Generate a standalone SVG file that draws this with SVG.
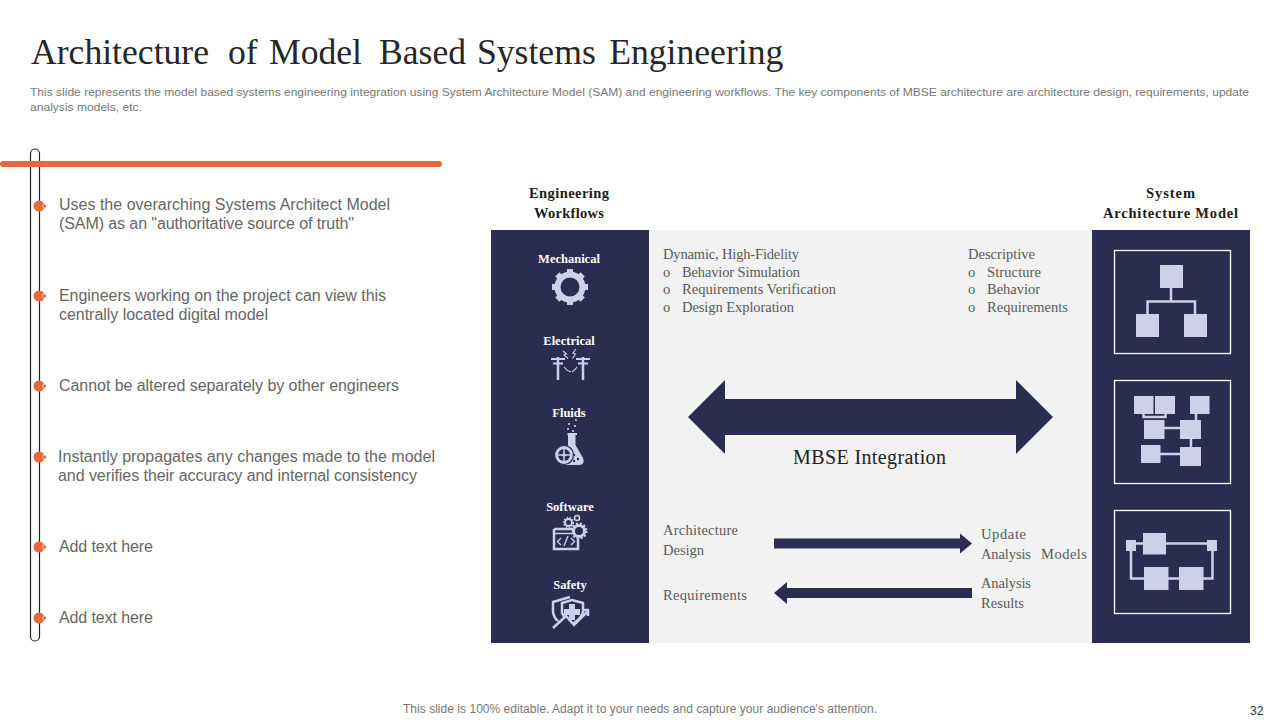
<svg xmlns="http://www.w3.org/2000/svg" width="1280" height="720" viewBox="0 0 1280 720">
<style>
.s{font-family:"Liberation Serif","Times New Roman",serif}
.a{font-family:"Liberation Sans",Arial,sans-serif}
.b{font-size:16px;fill:#666}
.t{font-size:14.5px;fill:#595959}
.h{font-size:14.5px;font-weight:bold;fill:#1c1c1c}
.w{font-size:12.500px;font-weight:bold;fill:#fff;text-anchor:middle}
.i{fill:#cdd0e6}
.l{stroke:#cdd0e6;fill:none;stroke-width:2.500}
.f{fill:none;stroke:#fff;stroke-width:1.300}
.d{fill:#e8683a}
.n{fill:#2a2d50}
</style>
<defs><g id="dot"><circle cx="39" cy="0" r="5.500" class="d"/><circle cx="44.500" cy="0" r="2" class="d" stroke="#fff" stroke-width="0.600"/></g></defs>
<rect width="1280" height="720" fill="#fff"/>
<g id="title"><text class="s" transform="translate(30 64) scale(.99 1)" font-size="36" fill="#262626"><tspan x="1">Architecture</tspan> <tspan x="200">of</tspan> <tspan x="241.400">Model</tspan> <tspan x="352.500">Based</tspan> <tspan x="451.500">Systems</tspan> <tspan x="585">Engineering</tspan></text></g>
<g id="subtitle" class="a" font-size="11.500" fill="#777"><text x="30" y="96" textLength="1219" lengthAdjust="spacingAndGlyphs">This slide represents the model based systems engineering integration using System Architecture Model (SAM)  and engineering workflows. The key components of MBSE architecture are architecture design, requirements, update</text><text x="30" y="111" textLength="112" lengthAdjust="spacingAndGlyphs">analysis models, etc.</text></g>
<g id="timeline">
<rect x="30.500" y="149" width="9" height="492" rx="4.500" fill="none" stroke="#222" stroke-width="1.200"/>
<rect x="0" y="161" width="442" height="6" rx="3" fill="#e8683a"/>
<use href="#dot" y="206"/><use href="#dot" y="296"/><use href="#dot" y="386"/><use href="#dot" y="457"/><use href="#dot" y="547"/><use href="#dot" y="618"/>
</g>
<g id="bullets" class="a b">
<text x="59" y="210" textLength="331">Uses the overarching Systems Architect Model</text>
<text x="59" y="229" textLength="295">(SAM) as an "authoritative source of truth"</text>
<text x="59" y="301" textLength="327">Engineers working on the project can view this</text>
<text x="59" y="320" textLength="209">centrally located digital model</text>
<text x="59" y="391" textLength="340">Cannot be altered separately by other engineers</text>
<text x="58" y="462" textLength="377">Instantly propagates any changes made to the model</text>
<text x="58" y="481" textLength="359">and verifies their accuracy and internal consistency</text>
<text x="59" y="552" textLength="94">Add text here</text>
<text x="59" y="623" textLength="94">Add text here</text>
</g>
<g id="headers" class="s h">
<text x="529" y="198" textLength="80">Engineering</text><text x="534" y="218" textLength="70">Workflows</text>
<text x="1146" y="198" textLength="49">System</text><text x="1103" y="218" textLength="135">Architecture Model</text>
</g>
<rect id="center-panel" x="649" y="230" width="443" height="413" fill="#f2f2f2"/>
<g id="workflows">
<rect class="n" x="491" y="230" width="158" height="413"/>
<g id="mechanical"><text class="s w" x="569" y="263">Mechanical</text>
<circle cx="570" cy="287" r="12.500" fill="none" stroke="#cdd0e6" stroke-width="6"/>
<path d="M570 269v4M570 301v4M552 287h4M584 287h4M557.300 274.300l3 3M582.700 299.700l-3-3M582.700 274.300l-3 3M557.300 299.700l3-3" stroke="#cdd0e6" stroke-width="6"/></g>
<g id="electrical"><text class="s w" x="569" y="345">Electrical</text>
<path class="l" d="M558 380v-23M583 380v-23"/>
<path d="M551 359h14M553 363.500h10M576 359h14M578 363.500h10" stroke="#cdd0e6" stroke-width="1.800"/>
<path d="M563 351l3.500 3-2.500 1 4 3.500M576 349l-3 4 2.500 1-3 4.500M564 367q3 4 7 5M577 367q-2 3-5 5" stroke="#cdd0e6" stroke-width="1.200" fill="none"/></g>
<g id="fluids"><text class="s w" x="569" y="417">Fluids</text>
<path class="i" d="M568 433h9v2h-1.500v10l7.500 13q2.500 7-4 7h-12q-6 0-4-6l5-14v-10h-1z"/>
<circle cx="574" cy="455" r="1.200" class="n"/><circle cx="578" cy="459" r="1.200" class="n"/><circle cx="574" cy="461" r="1.200" class="n"/>
<circle cx="564" cy="455" r="9.500" class="i" stroke="#2a2d50" stroke-width="1.200"/>
<circle cx="564" cy="455" r="6" class="n"/><circle cx="564" cy="455" r="1.800" class="i"/>
<path d="M564 449v12M558 455h12" stroke="#cdd0e6" stroke-width="1.500"/>
<circle cx="569" cy="424" r="1.100" class="i"/><circle cx="576" cy="420" r="1.100" class="i"/><circle cx="575" cy="426" r="1.100" class="i"/><circle cx="568" cy="429" r="1.100" class="i"/><circle cx="573" cy="431" r="1.100" class="i"/></g>
<g id="software"><text class="s w" x="570" y="511">Software</text>
<path class="l" d="M554 529h24M554 529v20h24v-14" stroke-width="2"/><path d="M554 533.500h17" stroke="#cdd0e6" stroke-width="1.500"/>
<path d="M561 538l-3.500 3.500 3.500 3.500M571 538l3.500 3.500-3.500 3.500M568 536l-4 10" stroke="#cdd0e6" stroke-width="1.400" fill="none"/>
<circle cx="579" cy="531" r="5.500" class="n" stroke="#cdd0e6" stroke-width="3"/><circle cx="579" cy="531" r="7.500" fill="none" stroke="#cdd0e6" stroke-width="2" stroke-dasharray="2 2"/>
<circle cx="568.500" cy="522.500" r="3.500" fill="none" stroke="#cdd0e6" stroke-width="2"/><circle cx="568.500" cy="522.500" r="5" fill="none" stroke="#cdd0e6" stroke-width="1.300" stroke-dasharray="1.500 1.500"/>
<circle cx="577" cy="518" r="2.500" fill="none" stroke="#cdd0e6" stroke-width="1.500"/></g>
<g id="safety"><text class="s w" x="570" y="589">Safety</text>
<path class="l" stroke-width="2" d="M570 597l-17 5v10q1 6 5 9M562 603l10-3 11 3v9q-2 7-11 12-7-4-10-11z"/>
<path class="i" d="M569 604h6v5h5v6h-5v5h-6v-5h-5v-6h5z"/>
<path class="n" d="M562 618l4-3 8 9 8-8 2 2-10 11z"/>
<path class="l" stroke-width="2" d="M553 628l13-12 8 9 14-14M582 610h6v6"/></g>
</g>
<g id="center-text" class="s t">
<text x="663" y="259" textLength="136">Dynamic, High-Fidelity</text>
<text x="663" y="277">o</text><text x="682" y="277" textLength="118">Behavior Simulation</text>
<text x="663" y="294">o</text><text x="682" y="294" textLength="154">Requirements Verification</text>
<text x="663" y="312">o</text><text x="682" y="312" textLength="112">Design Exploration</text>
<text x="968" y="259" textLength="67">Descriptive</text>
<text x="968" y="277">o</text><text x="987" y="277" textLength="54">Structure</text>
<text x="968" y="294">o</text><text x="987" y="294" textLength="53">Behavior</text>
<text x="968" y="312">o</text><text x="987" y="312" textLength="81">Requirements</text>
<text x="663" y="535" textLength="75">Architecture</text><text x="663" y="555" textLength="41">Design</text>
<text x="663" y="600" textLength="84">Requirements</text>
<text x="981" y="539" textLength="45">Update</text><text x="981" y="559" textLength="50">Analysis</text><text x="1041" y="559" textLength="46">Models</text>
<text x="981" y="588" textLength="50">Analysis</text><text x="981" y="608" textLength="43">Results</text>
<text x="793" y="464" font-size="20" fill="#222" textLength="153">MBSE Integration</text>
</g>
<g id="connectors" class="n">
<path d="M688 417l37-37v19h291v-19l37 37-37 37v-19h-291v19z"/>
<path d="M774 538.500h186v-5l12 10-12 10v-5h-186z"/>
<path d="M972 588h-185v-6l-13 11 13 11v-6h185z"/>
</g>
<g id="architecture">
<rect class="n" x="1092" y="230" width="158" height="413"/>
<g id="arch-1"><rect class="f" x="1114.500" y="250.500" width="116" height="103"/>
<path class="l" d="M1171 288v13.500M1147.500 315v-13.500h47.500v13.500"/>
<rect class="i" x="1160" y="265" width="23" height="23"/><rect class="i" x="1136" y="314" width="23" height="23"/><rect class="i" x="1184" y="314" width="23" height="23"/></g>
<g id="arch-2"><rect class="f" x="1114.500" y="380.500" width="116" height="103"/>
<path class="l" stroke-width="2" d="M1143.500 414v3h22v-3M1164 428h17M1196 414v7M1191 438v10M1160 454h21"/>
<rect class="i" x="1134" y="396" width="19.500" height="18"/><rect class="i" x="1155" y="396" width="20" height="18"/><rect class="i" x="1190" y="396" width="19.500" height="18"/>
<rect class="i" x="1144" y="420" width="20.500" height="19"/><rect class="i" x="1180" y="420" width="21" height="19"/>
<rect class="i" x="1141" y="445" width="19.500" height="18"/><rect class="i" x="1180" y="447" width="21" height="19"/></g>
<g id="arch-3"><rect class="f" x="1114.500" y="510.500" width="116" height="103"/>
<path class="l" d="M1136 543.500h71M1131 551v27.500h13M1168 578.500h11M1203 578.500h9.500v-27.500"/>
<rect class="i" x="1126" y="540" width="10" height="11"/><rect class="i" x="1207" y="540" width="10" height="11"/>
<rect class="i" x="1143" y="533" width="23" height="21.500"/><rect class="i" x="1144" y="567" width="24.500" height="23"/><rect class="i" x="1179" y="567" width="24.500" height="23"/></g>
</g>
<g id="footer" class="a"><text x="403" y="713" font-size="12" fill="#777" textLength="474">This slide is 100% editable. Adapt it to your needs and capture your audience's attention.</text>
<text x="1250" y="715" font-size="12" fill="#333">32</text></g>
</svg>
